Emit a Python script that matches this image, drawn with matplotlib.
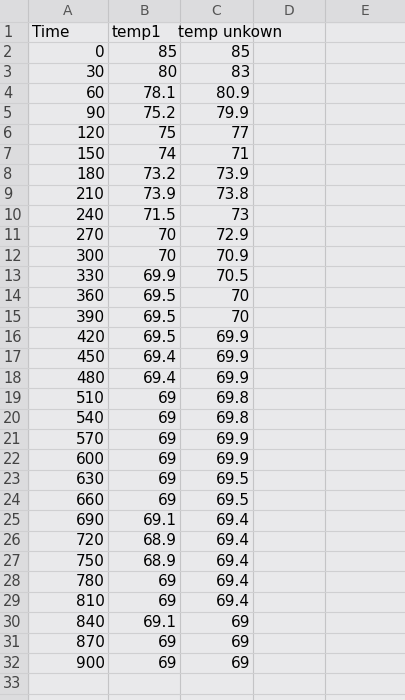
import matplotlib
matplotlib.use("Agg")
import matplotlib.pyplot as plt

col_letters = ["A", "B", "C", "D", "E"]
headers = ["Time", "temp1", "temp unkown"]
time = [0, 30, 60, 90, 120, 150, 180, 210, 240, 270, 300, 330, 360, 390, 420,
        450, 480, 510, 540, 570, 600, 630, 660, 690, 720, 750, 780, 810, 840, 870, 900]
temp1 = ["85", "80", "78.1", "75.2", "75", "74", "73.2", "73.9", "71.5", "70", "70",
         "69.9", "69.5", "69.5", "69.5", "69.4", "69.4", "69", "69", "69", "69", "69",
         "69", "69.1", "68.9", "68.9", "69", "69", "69.1", "69", "69"]
temp_unknown = ["85", "83", "80.9", "79.9", "77", "71", "73.9", "73.8", "73", "72.9",
                "70.9", "70.5", "70", "70", "69.9", "69.9", "69.9", "69.8", "69.8", "69.9",
                "69.9", "69.5", "69.5", "69.4", "69.4", "69.4", "69.4", "69.4", "69", "69", "69"]

col_edges = [0, 28, 108, 180, 253, 325, 406]
header_h = 22
row_h = 20.35
n_rows = 34

fig = plt.figure(figsize=(4.06, 7.0), dpi=100)
ax = fig.add_axes([0, 0, 1, 1])
ax.set_xlim(0, 406)
ax.set_ylim(700, 0)
ax.axis("off")
fig.patch.set_facecolor("#e9e9eb")

# header band and row-number band
ax.add_patch(plt.Rectangle((0, 0), 406, header_h, color="#dcdcde", zorder=0))
ax.add_patch(plt.Rectangle((0, 0), col_edges[1], 700, color="#dcdcde", zorder=0))

for x in col_edges[1:-1]:
    ax.plot([x, x], [0, 700], color="#c4c4c6", lw=0.8, zorder=1)
for r in range(n_rows):
    y = header_h + r * row_h
    ax.plot([0, 406], [y, y], color="#cfcfd1", lw=0.8, zorder=1)

for i, letter in enumerate(col_letters):
    xc = (col_edges[i + 1] + col_edges[i + 2]) / 2
    ax.text(xc, 11, letter, ha="center", va="center", fontsize=10, color="#555555")

fs = 11
for r in range(1, 34):
    yc = header_h + (r - 1) * row_h + row_h / 2
    ax.text(3, yc, str(r), ha="left", va="center", fontsize=10.5, color="#444444")

y1 = header_h + row_h / 2
ax.text(col_edges[1] + 4, y1, headers[0], ha="left", va="center", fontsize=fs)
ax.text(col_edges[2] + 4, y1, headers[1], ha="left", va="center", fontsize=fs)
ax.text(col_edges[3] - 2, y1, headers[2], ha="left", va="center", fontsize=fs)

for i in range(len(time)):
    yc = header_h + (i + 1) * row_h + row_h / 2
    ax.text(col_edges[2] - 3, yc, str(time[i]), ha="right", va="center", fontsize=fs)
    ax.text(col_edges[3] - 3, yc, temp1[i], ha="right", va="center", fontsize=fs)
    ax.text(col_edges[4] - 3, yc, temp_unknown[i], ha="right", va="center", fontsize=fs)

fig.savefig("out.png", dpi=100, facecolor=fig.get_facecolor())
